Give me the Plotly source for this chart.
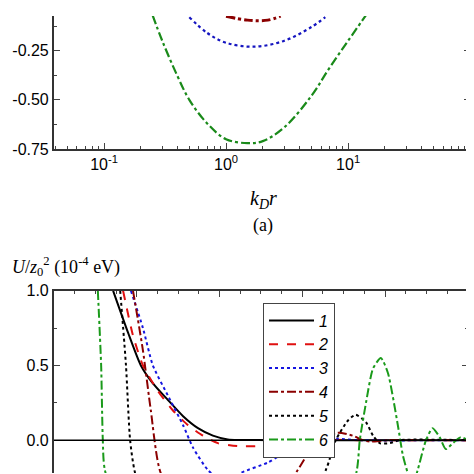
import plotly.graph_objects as go

# top panel (log x)
top_g_x = [0.25, 0.3, 0.4, 0.5, 0.7, 1.0, 1.5, 2, 3, 5, 7, 10, 14]
top_g_y = [-0.07, -0.2, -0.38, -0.5, -0.62, -0.7, -0.72, -0.71, -0.64, -0.48, -0.34, -0.2, -0.07]
top_b_x = [0.5, 0.7, 1.0, 1.7, 3, 5, 6.5]
top_b_y = [-0.08, -0.16, -0.21, -0.23, -0.2, -0.13, -0.08]
top_r_x = [1.0, 1.5, 2.2, 2.8]
top_r_y = [-0.075, -0.095, -0.095, -0.075]
log_minor = [m * 10 ** e for e in (-2, -1, 0, 1) for m in range(2, 10)]

# bottom panel
b1_x = [1.43, 1.79, 2.1, 2.39, 2.75, 3.12, 3.48, 3.84, 4.2, 5.17, 10]
b1_y = [1.0, 0.72, 0.5, 0.38, 0.27, 0.16, 0.08, 0.03, 0.005, 0, 0]
b2_x = [1.67, 1.91, 2.15, 2.51, 2.87, 3.24, 3.6, 3.96, 4.44, 4.93, 5.53, 6.14, 7.34, 10]
b2_y = [1.0, 0.7, 0.5, 0.33, 0.2, 0.1, 0.03, -0.02, -0.04, -0.04, -0.01, 0.005, 0, 0]
b3_x = [1.86, 2.15, 2.39, 2.75, 3.12, 3.36, 3.72, 4.2, 4.52, 5.17, 5.77, 6.38, 6.86, 7.34, 10]
b3_y = [1.0, 0.75, 0.5, 0.3, 0.1, -0.05, -0.2, -0.3, -0.22, -0.15, -0.05, 0.01, 0.01, 0, 0]
b4_x = [1.91, 2.15, 2.34, 2.58, 3.5, 4.5, 5.2, 5.89, 6.38, 6.86, 7.22, 7.46, 7.63, 8.07, 10]
b4_y = [1.0, 0.6, 0.2, -0.22, -0.6, -0.7, -0.5, -0.2, 0.0, 0.05, 0.03, 0, -0.01, 0, 0]
b5_x = [1.6, 1.74, 1.84, 1.96, 3, 5, 6.57, 6.81, 7.1, 7.29, 7.54, 7.71, 7.87, 8.12, 8.36, 10]
b5_y = [1.0, 0.5, 0.0, -0.22, -1, -1, -0.2, 0.0, 0.13, 0.17, 0.12, 0.03, -0.02, -0.02, 0, 0]
b6_x = [1.06, 1.14, 1.18, 1.23, 3, 6, 7.32, 7.39, 7.54, 7.71, 7.9, 8.07, 8.31, 8.43, 8.55, 8.67, 8.79, 8.99, 9.15, 9.32, 9.47, 9.64, 9.83, 10]
b6_y = [1.0, 0.5, 0.0, -0.2, -1.5, -1.5, -0.2, 0.0, 0.25, 0.48, 0.55, 0.45, 0.1, -0.1, -0.22, -0.3, -0.2, 0.0, 0.08, 0.02, -0.06, -0.02, 0.02, 0.0]

fig = go.Figure()
fig.add_trace(go.Scatter(x=top_g_x, y=top_g_y, mode="lines", line=dict(color="#1a8a1a", dash="dashdot", width=2.2, shape="spline"), showlegend=False, xaxis="x", yaxis="y"))
fig.add_trace(go.Scatter(x=top_b_x, y=top_b_y, mode="lines", line=dict(color="#1515c0", dash="dot", width=2.2, shape="spline"), showlegend=False, xaxis="x", yaxis="y"))
fig.add_trace(go.Scatter(x=top_r_x, y=top_r_y, mode="lines", line=dict(color="#8b0000", dash="dashdot", width=3, shape="spline"), showlegend=False, xaxis="x", yaxis="y"))

series = [
    (b1_x, b1_y, "1", "black", "solid"),
    (b2_x, b2_y, "2", "#e01010", "dash"),
    (b3_x, b3_y, "3", "#1515e0", "dot"),
    (b4_x, b4_y, "4", "#8b0000", "dashdot"),
    (b5_x, b5_y, "5", "black", "dot"),
    (b6_x, b6_y, "6", "#1a9a1a", "dashdot"),
]
for x, y, n, c, d in series:
    fig.add_trace(go.Scatter(x=x, y=y, name=f"<i>{n}</i>", mode="lines",
                             line=dict(color=c, dash=d, width=2, shape="spline", smoothing=0.6),
                             xaxis="x2", yaxis="y2"))

fig.add_shape(type="line", xref="x2", yref="y2", x0=0, x1=10, y0=0, y1=0, line=dict(color="black", width=1.5))

ax = dict(showline=True, linecolor="#333", linewidth=2, ticks="inside", showgrid=False, zeroline=False,
          tickfont=dict(family="Liberation Sans", size=16, color="black"))
fig.update_layout(
    width=474, height=474, margin=dict(l=0, r=0, t=0, b=0),
    plot_bgcolor="white", paper_bgcolor="white",
    xaxis=dict(ax, type="log", domain=[0.097, 0.975], range=[-1.41, 2], anchor="y", mirror=False,
               tickvals=[0.1, 1, 10, 100], ticktext=["10<sup>-1</sup>", "10<sup>0</sup>", "10<sup>1</sup>", "10<sup>2</sup>"],
               ticklen=6, minor=dict(ticks="inside", ticklen=3, showgrid=False, tickvals=log_minor)),
    yaxis=dict(ax, domain=[0.709, 1], range=[-0.75, -0.074], anchor="x", mirror="ticks",
               tickvals=[-0.75, -0.5, -0.25], ticktext=["-0.75", "-0.50", "-0.25"], ticklen=6,
               minor=dict(ticks="inside", ticklen=3, dtick=0.125)),
    xaxis2=dict(ax, domain=[0.097, 0.970], range=[0, 10], anchor="y2", side="top", mirror=False,
                showticklabels=False, dtick=2, ticklen=6, minor=dict(ticks="inside", ticklen=3, dtick=0.5)),
    yaxis2=dict(ax, domain=[0, 0.3987], range=[-0.22, 1.0], anchor="x2", mirror="ticks",
                tickvals=[0, 0.5, 1.0], ticktext=["0.0", "0.5", "1.0"], ticklen=6,
                minor=dict(ticks="inside", ticklen=3, dtick=0.25)),
    legend=dict(x=0.538, y=0.373, xanchor="left", yanchor="top", bordercolor="#444", borderwidth=1,
                bgcolor="white", font=dict(family="Liberation Sans", size=16, color="black"),
                tracegroupgap=0, itemwidth=45),
    annotations=[
        dict(text="<i>k<sub>D</sub>r</i>", x=255 / 474, y=1 - 190 / 474, xref="paper", yref="paper",
             showarrow=False, font=dict(family="Liberation Serif", size=20, color="black")),
        dict(text="(a)", x=255 / 474, y=1 - 217 / 474, xref="paper", yref="paper",
             showarrow=False, font=dict(family="Liberation Serif", size=18, color="black")),
        dict(text="<i>U</i>/<i>z</i><sub>0</sub><sup>2</sup> (10<sup>-4</sup> eV)", x=0.005, y=1 - 260 / 474,
             xref="paper", yref="paper", xanchor="left", showarrow=False,
             font=dict(family="Liberation Serif", size=18, color="black")),
    ],
)
fig.write_html("out.html")
